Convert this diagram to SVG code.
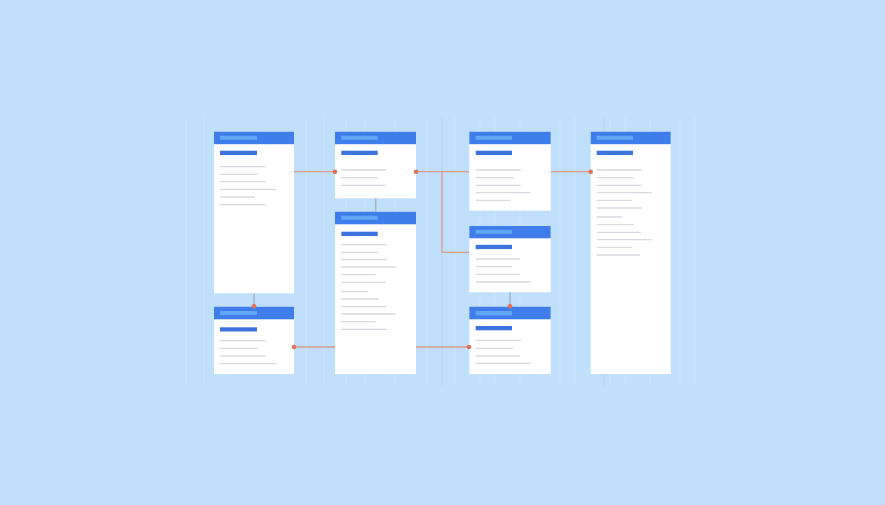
<svg xmlns="http://www.w3.org/2000/svg" width="885" height="505" viewBox="0 0 885 505">
<style>
.card{fill:#ffffff}
.hd{fill:#3f7eea}
.lb{fill:#62a6f6}
.db{fill:#3a74dc}
.ln{stroke:#d8dadf;stroke-width:1.3}
.grid{stroke:#cbe5fb;stroke-width:1}
.grid2{stroke:#b6d5f1;stroke-width:1}
.or{stroke:#d99a8e;stroke-width:1.3;fill:none}
.gy{stroke:#a7b3c3;stroke-width:1.5;fill:none}
.dot{fill:#e07256}
</style>
<rect width="885" height="505" fill="#bfdffb"/>
<g id="grid">
<path class="grid" d="M186 117V386M204 117V386M306 117V386M324 117V386M346 117V386M365 117V386M395 117V386M427 117V386M455 117V386M480 117V386M495 117V386M520 117V386M560 117V386M575 117V386M610 117V386M625 117V386M650 117V386M680 117V386M695 117V386"/>
<path class="grid2" d="M442 117V386M604 117V386"/>
</g>
<g id="table1">
<rect class="card" x="214" y="131.7" width="80" height="161.6"/>
<rect class="hd" x="214" y="131.7" width="80" height="12.5"/>
<rect class="lb" x="220" y="135.8" width="37" height="4"/>
<rect class="db" x="220" y="150.7" width="37" height="4.3"/>
<path class="ln" d="M220 166.7H265.7M220 174.3H257.7M220 181.7H265.7M220 189.3H276M220 197H255M220 204.7H265.7"/>
</g>
<g id="table2">
<rect class="card" x="335" y="131.7" width="81" height="66.6"/>
<rect class="hd" x="335" y="131.7" width="81" height="12.5"/>
<rect class="lb" x="341.3" y="135.8" width="36.4" height="4"/>
<rect class="db" x="341.3" y="150.7" width="36.4" height="4.3"/>
<path class="ln" d="M341.3 170H386M341.3 177.7H378M341.3 185.3H386"/>
</g>
<g id="table3">
<rect class="card" x="469.3" y="131.7" width="81.4" height="79"/>
<rect class="hd" x="469.3" y="131.7" width="81.4" height="12.5"/>
<rect class="lb" x="475.7" y="135.8" width="36.3" height="4"/>
<rect class="db" x="475.7" y="150.7" width="36.3" height="4.3"/>
<path class="ln" d="M475.7 170H520.7M475.7 177.7H514M475.7 185.3H520.7M475.7 192.7H530.7M475.7 200.3H510.7"/>
</g>
<g id="table4">
<rect class="card" x="590.7" y="131.7" width="80" height="242.3"/>
<rect class="hd" x="590.7" y="131.7" width="80" height="12.5"/>
<rect class="lb" x="596.7" y="135.8" width="36.3" height="4"/>
<rect class="db" x="596.7" y="150.7" width="36.3" height="4.3"/>
<path class="ln" d="M596.7 170H641.7M596.7 177.7H633.7M596.7 185.3H642M596.7 192.7H651.7M596.7 200.3H631.7M596.7 208H642M596.7 217H622M596.7 224.7H633.7M596.7 232.3H641M596.7 239.7H651.7M596.7 247.3H632M596.7 255H640"/>
</g>
<g id="table5">
<rect class="card" x="335" y="211.7" width="81" height="162.3"/>
<rect class="hd" x="335" y="211.7" width="81" height="12.6"/>
<rect class="lb" x="341.3" y="215.8" width="36.4" height="4"/>
<rect class="db" x="341.3" y="231.7" width="36.4" height="4.3"/>
<path class="ln" d="M341.3 244.7H386.7M341.3 252.3H378.3M341.3 259.7H386.7M341.3 267H395.7M341.3 274.7H375.7M341.3 282.3H386M341.3 291.7H367.7M341.3 299H379M341.3 306.7H386.7M341.3 314H395.7M341.3 321.7H375.7M341.3 329.3H386.7"/>
</g>
<g id="table6">
<rect class="card" x="469.3" y="226" width="81.4" height="66.3"/>
<rect class="hd" x="469.3" y="226" width="81.4" height="12.3"/>
<rect class="lb" x="475.7" y="229.8" width="36.3" height="4"/>
<rect class="db" x="475.7" y="244.8" width="36.3" height="4.3"/>
<path class="ln" d="M475.7 259H520M475.7 266.7H512.3M475.7 274.3H520M475.7 282H530.7"/>
</g>
<g id="table7">
<rect class="card" x="214" y="306.7" width="80" height="67.3"/>
<rect class="hd" x="214" y="306.7" width="80" height="12.6"/>
<rect class="lb" x="220" y="311" width="37" height="4"/>
<rect class="db" x="220" y="327.3" width="37" height="4.2"/>
<path class="ln" d="M220 340.7H265.7M220 348.3H257.7M220 356H265.7M220 363.7H276"/>
</g>
<g id="table8">
<rect class="card" x="469.3" y="306.7" width="81.4" height="67.3"/>
<rect class="hd" x="469.3" y="306.7" width="81.4" height="12.6"/>
<rect class="lb" x="475.7" y="311" width="36.3" height="4.3"/>
<rect class="db" x="475.7" y="326" width="36.3" height="4.3"/>
<path class="ln" d="M475.7 340.3H521M475.7 348.3H513.3M475.7 356H520M475.7 363.3H530.7"/>
</g>
<g id="connectors">
<path class="or" d="M294 171.7H335M416 171.7H469M550.7 171.7H590.7M442 171.7V252.3H469M294 347H335M416 347H469"/>
<path class="gy" d="M375.7 198.3V211.7M254 293.3V306.7M510 292.3V306.7"/>
<circle class="dot" cx="335" cy="171.7" r="2.3"/>
<circle class="dot" cx="416" cy="171.7" r="2.3"/>
<circle class="dot" cx="590.7" cy="171.7" r="2.3"/>
<circle class="dot" cx="294" cy="347" r="2.3"/>
<circle class="dot" cx="469" cy="347" r="2.3"/>
<circle class="dot" cx="254" cy="306.3" r="2.3"/>
<circle class="dot" cx="510" cy="306.3" r="2.3"/>
</g>
</svg>
